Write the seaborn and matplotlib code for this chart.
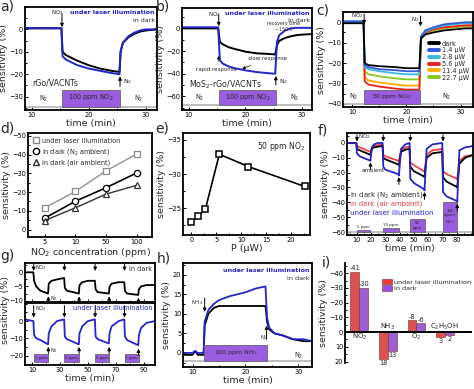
import numpy as np
import pandas as pd
import matplotlib
matplotlib.use("Agg")
import matplotlib.pyplot as plt
from matplotlib.lines import Line2D
from matplotlib.patches import Patch
from matplotlib.ticker import AutoMinorLocator
import seaborn as sns

# --- Style ---
sns.set_theme(style="ticks")
plt.rcParams['font.family'] = ['DejaVu Sans']
plt.rcParams['mathtext.default'] = 'regular'

BLUE = '#2424c8'
PURPLE = '#9b5de0'
GRAY = '#b4b4b4'
RED_I = '#f03a3a'
PURPLE_I = '#9b4ee6'
TICK_FS = 4.8
LAB_FS = 6.8

# --- Data ---
# a) rGo/VACNTs, 100 ppm NO2
a_time = [9, 15.2, 15.4, 16, 18, 20, 22, 24, 25.4, 25.6, 26, 27, 28, 29, 30, 31.8]
a_dark = [0.5, 0.5, -10, -11.5, -14, -16, -17.5, -18.5, -19, -10, -6, -3.5, -2, -1, -0.5, 0]
a_laser = [0.5, 0.5, -12, -13.5, -16, -17.5, -18.5, -19.5, -20, -10, -6, -3, -1.5, -0.5, 0, 0]
a_gas = (15.3, 25.5)

# b) MoS2-rGo/VACNTs, 100 ppm NO2
b_time = [9, 15.2, 15.5, 16, 17, 18, 20, 22, 24, 25.3, 25.6, 26, 27, 28, 29, 30, 31.8]
b_dark = [0, 0, -12, -14, -16.5, -18, -20.5, -22, -22.5, -23, -15, -11, -8.5, -7, -6, -5.5, -5]
b_laser = [1, 1, -28, -31, -33.5, -35, -37, -38.5, -39.5, -40, -12, -6, -2, 0, 0.5, 0.5, 0.5]
b_gas = (15.3, 25.4)

# c) 50 ppm NO2 at different laser powers
c_time = [8.3, 12.1, 12.3, 13, 15, 18, 20, 22.4, 22.7, 23.5, 25, 27, 29, 31, 32.3]
c_labels = ['dark', '1.4 μW', '2.8 μW', '5.6 μW', '11.4 μW', '22.7 μW']
c_colors = ['black', '#3358dd', '#3ab8dc', '#e82020', '#ffaa00', '#88c820']
c_dark = [-0.5, -0.5, -20, -21, -21.5, -22, -22.5, -22.5, -8, -6, -5, -4, -3.5, -3, -3]
c_p14 = [0.5, 0.5, -21, -22, -23, -23.5, -24, -24, -7, -4, -2.5, -1, -0.5, 0, 0]
c_p28 = [0, 0, -22, -23, -24, -25, -25.5, -25.5, -7, -4.5, -3, -1.5, -1, -0.5, -0.5]
c_p56 = [0, 0, -29, -30.5, -31.5, -32.5, -33, -33, -7, -5, -3.5, -2.5, -2, -1.5, -1.5]
c_p114 = [0, 0, -27, -28.5, -29.5, -30.5, -31, -31, -7, -5, -3.5, -2.5, -2, -1.5, -1.5]
c_p227 = [0, 0, -24, -25.5, -26.5, -27.5, -28, -28, -7, -5.5, -4, -3, -2.5, -2, -2]
c_gas = (12.2, 22.6)

# d) sensitivity vs NO2 concentration
d_conc = ['5', '10', '50', '100']
d_laser = [-11.6, -20.3, -31.3, -40.3]
d_dark_n2 = [-6.1, -15.1, -22.3, -30.2]
d_dark_air = [-4.8, -11.6, -18.9, -23.6]

# e) sensitivity vs laser power
e_power = [0, 1.4, 2.8, 5.6, 11.4, 22.7]
e_sens = [-23.0, -23.9, -24.9, -32.9, -31.1, -28.2]

# f) different NO2 concentrations
f_time = [3, 9.5, 10, 12, 19.5, 20.5, 22, 25, 28, 28.5, 30, 39, 39.5, 41, 44, 47,
          47.5, 50, 57, 57.5, 59, 63, 70, 70.5, 73, 80, 80.5, 82, 86, 92]
f_laser = [0, 0, -7, -9, -12, -3, -1, 0, 0, -16, -18, -21, -22, -4, -1, 0,
           -24, -27, -31, -32, -4, -1, 0, -33, -36, -39, -40, -5, -3, -2]
f_dark = [0, 0, -4, -5, -8, -4, -3, -2.5, -2, -10, -11, -14.5, -15, -6, -4.5, -4,
          -16, -19, -22.5, -23, -10, -7, -6, -23, -26, -29.5, -30, -14, -10, -8]
f_air = [0, 0, -2, -3, -6, -3, -2, -1.5, -1, -8, -9, -12, -12.5, -5, -3, -2.5,
         -13, -15, -19, -19.5, -8, -5, -4, -19, -21, -24, -24.5, -12, -9, -8]
f_on = [10, 28.5, 47.5, 70.5]
f_off = [19.5, 39.5, 57.5, 80.5]
f_box_top = [-58.5, -57.5, -51, -40]
f_box_text = ['5 ppm', '10 ppm', '50\nppm', '100\n(ppm)\nNO$_2$']

# g) repeated 5 ppm cycles
g_time = [5, 11, 11.5, 13, 16, 21.5, 22, 24, 28, 33, 33.5, 35, 43.5, 44, 46, 50,
          55, 55.5, 57, 65, 65.5, 67, 72, 76, 76.5, 78, 86, 86.5, 88, 92, 98]
g_dark = [0, 0, -3, -5, -6.5, -7.5, -4, -3, -2.5, -2, -5.5, -6.5, -7.5, -4.5, -3.5, -3,
          -3, -6, -7, -7.5, -5, -4, -3.5, -3.5, -6.5, -7.5, -8, -6, -5, -4.5, -4.5]
g_laser = [1, 0, -8, -10, -11, -13.5, -7, -3, 0, 1, -9, -10.5, -13.5, -7, -3, 0,
           1, -9, -10.5, -13, -7, -3, 0, 1, -9, -11, -14, -8, -4, -1, 0]
g_on = [11.2, 33.2, 55.2, 76.2]
g_off = [21.7, 43.7, 65.2, 86.2]

# h) 100 ppm NH3
h_time = [8.2, 10, 10.5, 11, 12.1, 12.3, 13, 14, 15, 17, 20, 22, 23.8, 24.1, 24.5,
          25.5, 27, 29, 31, 32.6]
h_dark = [-0.5, -0.5, 0.5, -0.5, -0.5, 7, 10, 11.5, 12, 12, 12, 12, 12, 8, 6, 5, 4.5, 3.5, 3, 3]
h_laser = [0, 0, 0.5, 0, 0, 8, 11, 12.5, 13.5, 14.5, 15.5, 16.5, 17, 9, 6.5, 5, 4.5, 3.5, 3.5, 3]
h_gas = (12.2, 24.0)

# i) selectivity
i_gas = ['NO$_2$', 'NH$_3$', 'O$_2$', 'C$_2$H$_5$OH']
i_laser = [-41, 18, -8, 3]
i_dark = [-30, 13, -6, 2]

# --- Figure & helpers ---
W, H = 474, 389
fig = plt.figure(figsize=(W / 100, H / 100), dpi=100)


def box(l, t, r, b):
    return fig.add_axes([l / W, 1 - b / H, (r - l) / W, (b - t) / H])


def frame(ax, minor_x=True):
    for s in ax.spines.values():
        s.set_linewidth(1.3)
        s.set_color('black')
    ax.yaxis.set_minor_locator(AutoMinorLocator(2))
    if minor_x:
        ax.xaxis.set_minor_locator(AutoMinorLocator(2))
    ax.tick_params(which='both', direction='in', width=0.7, labelsize=TICK_FS,
                   pad=1.2, colors='black')
    ax.tick_params(which='major', length=2.5)
    ax.tick_params(which='minor', length=1.4)


def gas_box(ax, t0, t1, y0, y1, label, fs=4.7):
    ax.fill_between([t0, t1], y0, y1, color=PURPLE, ec='#666666', lw=0.6, zorder=3)
    ax.text((t0 + t1) / 2, (y0 + y1) / 2, label, ha='center', va='center',
            fontsize=fs, zorder=4)


def arrow(ax, x, y0, y1, txt='', tx=None, ty=None, fs=4.5):
    ax.annotate('', xy=(x, y1), xytext=(x, y0),
                arrowprops=dict(arrowstyle='-|>', lw=0.7, color='black',
                                mutation_scale=5, shrinkA=0, shrinkB=0))
    if txt:
        ax.text(tx, ty, txt, fontsize=fs, va='center', ha='left')


def line(ax, x, y, color, lw=1.4):
    sns.lineplot(x=x, y=y, color=color, lw=lw, ax=ax, sort=False,
                 estimator=None, legend=False)


def label(ax, xl='time (min)', yl='sensitivity (%)'):
    ax.set_xlabel(xl, fontsize=LAB_FS, labelpad=1)
    ax.set_ylabel(yl, fontsize=LAB_FS, labelpad=1)


def tag(x, y, s):
    fig.text(x / W, 1 - y / H, s, fontsize=10, va='top', ha='left')


# ---- a ----
ax = box(25, 7, 157, 110)
ax.axhline(-34.5, color=GRAY, lw=1.2)
gas_box(ax, a_gas[0], a_gas[1], -34.5, -27, '100 ppm NO$_2$')
line(ax, a_time, a_dark, 'black')
line(ax, a_time, a_laser, BLUE)
ax.set_xlim(8.8, 32)
ax.set_ylim(-36, 10)
ax.set_xticks([10, 20, 30])
ax.set_yticks([0, -10, -20, -30])
ax.text(12, -31, 'N$_2$', fontsize=4.7, ha='center', va='center')
ax.text(28.7, -31, 'N$_2$', fontsize=4.7, ha='center', va='center')
arrow(ax, 15.3, 7, 1)
ax.text(13.4, 7.5, 'NO$_2$', fontsize=4, va='center')
arrow(ax, 25.5, -25.5, -21, 'N$_2$', 26, -23.5)
ax.text(10, -24, 'rGo/VACNTs', fontsize=5.7, va='center')
ax.text(31.6, 7.6, 'under laser illumination', color=BLUE, fontsize=4.5,
        ha='right', va='center', weight='semibold')
ax.text(31.6, 4, 'in dark', fontsize=4.5, ha='right', va='center')
frame(ax)
label(ax)

# ---- b ----
ax = box(182, 8, 312, 110)
ax.axhline(-68, color=GRAY, lw=1.2)
gas_box(ax, b_gas[0], b_gas[1], -68, -54, '100 ppm NO$_2$')
line(ax, b_time, b_dark, 'black')
line(ax, b_time, b_laser, BLUE)
ax.set_xlim(8.8, 31.8)
ax.set_ylim(-72, 18)
ax.set_xticks([10, 20, 30])
ax.set_yticks([0, -20, -40, -60])
ax.text(12, -61, 'N$_2$', fontsize=4.7, ha='center', va='center')
ax.text(28.7, -61, 'N$_2$', fontsize=4.7, ha='center', va='center')
arrow(ax, 15.3, 12, 2)
ax.text(13.4, 12.5, 'NO$_2$', fontsize=4, va='center')
arrow(ax, 25.4, -50, -42, 'N$_2$', 26, -47)
ax.text(10, -50, 'MoS$_2$-rGo/VACNTs', fontsize=5.7, va='center')
ax.annotate('rapid response', xy=(15.4, -22), xytext=(11.3, -38), fontsize=4,
            arrowprops=dict(arrowstyle='-|>', lw=0.5, mutation_scale=4, color='black'))
ax.annotate('slow response', xy=(19, -36.5), xytext=(20.5, -28), fontsize=4,
            arrowprops=dict(arrowstyle='-|>', lw=0.5, mutation_scale=4, color='black'))
ax.text(26.8, 1.5, 'recovery time\n~150 s', fontsize=3.4, ha='center', va='center',
        linespacing=1.1)
ax.text(31.4, 13.5, 'under laser illumination', color=BLUE, fontsize=4.5,
        ha='right', va='center', weight='semibold')
ax.text(31.4, 7, 'in dark', fontsize=4.5, ha='right', va='center')
frame(ax)
label(ax)

# ---- c ----
ax = box(343, 12, 473, 107)
ax.axhline(-40, color=GRAY, lw=1.2)
gas_box(ax, c_gas[0], c_gas[1], -40, -33, '50 ppm NO$_2$', fs=4.5)
c_series = [c_dark, c_p14, c_p28, c_p56, c_p114, c_p227]
for ys, col in list(zip(c_series, c_colors))[::-1]:
    line(ax, c_time, ys, col, lw=1.3)
ax.set_xlim(8.3, 32.3)
ax.set_ylim(-41.5, 5)
ax.set_xticks([10, 20, 30])
ax.set_yticks([0, -10, -20, -30, -40])
ax.text(10.2, -36.5, 'N$_2$', fontsize=4.7, ha='center', va='center')
ax.text(27.5, -36.5, 'N$_2$', fontsize=4.7, ha='center', va='center')
arrow(ax, 12.2, 4, -1)
ax.text(9.8, 3.3, 'NO$_2$', fontsize=4, va='center')
arrow(ax, 22.6, 3, -2)
ax.text(20.8, 1.2, 'N$_2$', fontsize=4, va='center')
handles = [Line2D([], [], color=c, lw=2.8) for c in c_colors]
ax.legend(handles, c_labels, fontsize=4.7, frameon=False, loc='upper right',
          bbox_to_anchor=(1.0, 0.74), handlelength=1.6, handletextpad=0.4,
          labelspacing=0.12, borderaxespad=0.2)
frame(ax)
label(ax)

# ---- d ----
ax = box(28, 133, 152, 237)
xpos = np.arange(len(d_conc))
sns.lineplot(x=xpos, y=d_laser, color='#9a9a9a', lw=1.1, marker='s', ms=4.5,
             mfc='white', mec='#8a8a8a', mew=0.9, ax=ax, legend=False)
sns.lineplot(x=xpos, y=d_dark_n2, color='black', lw=1.2, marker='o', ms=4.5,
             mfc='white', mec='black', mew=0.9, ax=ax, legend=False)
sns.lineplot(x=xpos, y=d_dark_air, color='#303030', lw=1.0, marker='^', ms=4.5,
             mfc='white', mec='#303030', mew=0.9, ax=ax, legend=False)
ax.set_xticks(xpos)
ax.set_xticklabels(d_conc)
ax.set_xlim(-0.55, 3.5)
ax.set_ylim(4, -51.5)
ax.set_yticks([0, -10, -20, -30, -40, -50])
dh = [Line2D([], [], ls='none', marker='s', ms=4.5, mfc='white', mec='#8a8a8a'),
      Line2D([], [], ls='none', marker='o', ms=4.5, mfc='white', mec='black'),
      Line2D([], [], ls='none', marker='^', ms=4.5, mfc='white', mec='#303030')]
ax.legend(dh, ['under laser illumination', 'in dark (N$_2$ ambient)',
               'in dark (air ambient)'], fontsize=4.7, frameon=False,
          loc='upper left', handletextpad=0.3, labelspacing=0.45,
          borderaxespad=0.3, handlelength=1.2)
frame(ax, minor_x=False)
label(ax, 'NO$_2$ concentration (ppm)')

# ---- e ----
ax = box(183, 133, 310, 235)
sns.lineplot(x=e_power, y=e_sens, color='black', lw=1.2, marker='s', ms=5,
             mfc='white', mec='black', mew=1.1, ax=ax, legend=False)
ax.set_xlim(-1.7, 23.8)
ax.set_ylim(-21.1, -36)
ax.set_xticks([0, 5, 10, 15, 20])
ax.set_yticks([-25, -30, -35])
ax.text(0.96, 0.93, '50 ppm NO$_2$', transform=ax.transAxes, fontsize=5.5,
        ha='right', va='top')
frame(ax)
label(ax, 'P (μW)')

# ---- f ----
ax = box(347, 133, 473, 235)
ax.axhline(-60, color=GRAY, lw=1.2)
for t0, t1, top, txt in zip(f_on, f_off, f_box_top, f_box_text):
    if top > -55:
        gas_box(ax, t0, t1, -60, top, txt, fs=2.9)
    else:
        ax.fill_between([t0, t1], -60, top, color=PURPLE, ec='#666666', lw=0.6, zorder=3)
        ax.text((t0 + t1) / 2, top + 2.2, txt, fontsize=2.9, ha='center', va='center')
line(ax, f_time, f_air, '#ee4444', lw=1.3)
line(ax, f_time, f_dark, 'black', lw=1.3)
line(ax, f_time, f_laser, BLUE, lw=1.3)
for t in f_on:
    arrow(ax, t, 5.5, 1)
for t, y in zip(f_off, [f_laser[4], f_laser[12], f_laser[19], f_laser[26]]):
    arrow(ax, t, y - 6, y - 1)
ax.text(11, 4, 'NO$_2$', fontsize=4, va='center')
ax.text(13, -18.5, 'ambient', fontsize=4, va='center')
ax.set_xlim(3, 91.6)
ax.set_ylim(-62, 6.7)
ax.set_xticks([10, 20, 30, 40, 50, 60, 70, 80])
ax.set_yticks([0, -10, -20, -30, -40, -50, -60])
ax.text(5, -35, 'in dark (N$_2$ ambient)', fontsize=5, va='center')
ax.text(5, -41, 'in dark (air ambient)', fontsize=5, va='center', color='#ee4444')
ax.text(5, -47, 'under laser illumination', fontsize=5, va='center', color=BLUE)
frame(ax)
label(ax)

# ---- g ----
ax1 = box(25, 263, 155, 302)
ax2 = box(25, 303, 155, 365)
line(ax1, g_time, g_dark, 'black', lw=1.3)
line(ax2, g_time, g_laser, BLUE, lw=1.3)
for t0, t1 in zip(g_on, g_off):
    gas_box(ax2, t0, t1, -24, -19, '5 ppm', fs=2.9)
for a in (ax1, ax2):
    a.set_xlim(5, 98)
    a.set_xticks([10, 30, 50, 70, 90])
ax1.set_xticklabels([])
ax1.set_ylim(-10.5, 3.3)
ax1.set_yticks([0, -5, -10])
ax2.set_ylim(-25.5, 10.5)
ax2.set_yticks([0, -10, -20])
for t in g_on:
    arrow(ax1, t, 3, 0.5)
    arrow(ax2, t, 9, 2)
for t, y1, y2 in zip(g_off, [-8, -8, -8, -8.5], [-14, -14, -14, -15]):
    arrow(ax1, t, y1 - 2.5, y1 - 0.5)
    arrow(ax2, t, y2 - 5, y2 - 1)
ax1.text(12.5, 1.8, 'NO$_2$', fontsize=3.6, va='center')
ax1.text(23, -9.3, 'N$_2$', fontsize=3.6, va='center')
ax2.text(12.5, 7.5, 'NO$_2$', fontsize=3.6, va='center')
ax2.text(23, -17, 'N$_2$', fontsize=3.6, va='center')
ax1.text(96, 1.2, 'in dark', fontsize=4.7, ha='right', va='center')
ax2.text(96, 7.5, 'under laser illumination', fontsize=4.8, ha='right',
         va='center', color=BLUE)
frame(ax1)
frame(ax2)
ax1.set_ylabel('')
ax2.set_ylabel('')
ax2.set_xlabel('time (min)', fontsize=LAB_FS, labelpad=1)
fig.text(6 / W, 1 - 310 / H, 'sensitivity (%)', rotation=90, fontsize=LAB_FS,
         ha='center', va='center')

# ---- h ----
ax = box(183, 263, 312, 367)
ax.axhline(-2, color=GRAY, lw=1.2)
gas_box(ax, h_gas[0], h_gas[1], -2, 2, '100 ppm NH$_3$', fs=4.5)
line(ax, h_time, h_dark, 'black', lw=1.3)
line(ax, h_time, h_laser, BLUE, lw=1.3)
ax.set_xlim(8.2, 32.6)
ax.set_ylim(-3.6, 23)
ax.set_xticks([10, 20, 30])
ax.set_yticks([0, 5, 10, 15, 20])
arrow(ax, 12.3, 14, 10.5)
ax.text(9.7, 13, 'NH$_3$', fontsize=4, va='center')
arrow(ax, 24.0, 3.5, 7)
ax.text(22.7, 4, 'N$_2$', fontsize=4, va='center')
ax.text(30, -0.8, 'N$_2$', fontsize=4.7, ha='center', va='center')
ax.text(32.2, 21, 'under laser illumination', color=BLUE, fontsize=4.6,
        ha='right', va='center', weight='semibold')
ax.text(32.2, 19, 'in dark', fontsize=4.6, ha='right', va='center')
frame(ax)
label(ax)

# ---- i ----
ax = box(345, 263, 472, 363)
df_i = pd.DataFrame({
    'gas': i_gas * 2,
    'sens': i_laser + i_dark,
    'cond': ['under laser illumination'] * 4 + ['in dark'] * 4,
})
sns.barplot(data=df_i, x='gas', y='sens', hue='cond',
            palette=[RED_I, PURPLE_I], width=0.62, ax=ax, legend=False,
            edgecolor='#7a2a2a', linewidth=0.4)
ax.axhline(0, color='black', lw=1.4)
ax.set_ylim(21, -47)
ax.set_xlim(-0.5, 3.95)
ax.set_yticks([-40, -30, -20, -10, 0, 10, 20])
ax.set_xticks([])
ax.set_xlabel('')
ax.set_ylabel('sensitivity (%)', fontsize=LAB_FS, labelpad=1)
for s in ['top', 'right', 'bottom']:
    ax.spines[s].set_visible(False)
ax.spines['left'].set_linewidth(1.3)
ax.spines['left'].set_color('black')
ax.yaxis.set_minor_locator(AutoMinorLocator(2))
ax.tick_params(axis='y', which='both', direction='in', width=0.7,
               labelsize=TICK_FS, pad=1.2, colors='black')
ax.tick_params(axis='y', which='minor', length=1.4)
ax.tick_params(axis='y', which='major', length=2.5)
off = 0.155
for k, (vl, vd) in enumerate(zip(i_laser, i_dark)):
    for dx, v in ((-off, vl), (off, vd)):
        ax.text(k + dx, v + (-2.5 if v < 0 else 2.8), f'{v}', fontsize=4.8,
                ha='center', va='center')
    gy = 3.3 if vl < 0 else -3.3
    ax.text(k, gy, i_gas[k], fontsize=5, ha='center', va='center')
ih = [Patch(fc=RED_I, ec='#7a2a2a', lw=0.4), Patch(fc=PURPLE_I, ec='#7a2a2a', lw=0.4)]
ax.legend(ih, ['under laser illumination', 'in dark'], fontsize=4.6,
          frameon=False, loc='upper right', bbox_to_anchor=(1.04, 0.9),
          handlelength=1.6, handleheight=1.0, handletextpad=0.3,
          labelspacing=0.05)

# ---- panel letters ----
tag(0, -1, 'a)')
tag(156, -1, 'b)')
tag(316, 3, 'c)')
tag(0, 121, 'd)')
tag(155, 121, 'e)')
tag(318, 124, 'f)')
tag(0, 249, 'g)')
tag(157, 251, 'h)')
tag(322, 255, 'i)')

fig.savefig('out.png', dpi=100)
